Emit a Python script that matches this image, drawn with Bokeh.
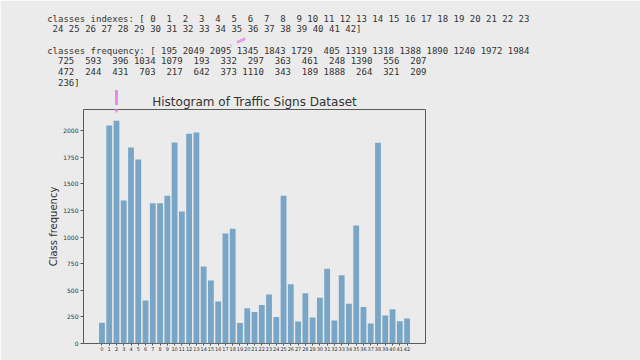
import math
from bokeh.plotting import figure
from bokeh.models import Range1d, FixedTicker, Title, Arrow, NormalHead
from bokeh.embed import file_html
from bokeh.resources import INLINE

# ---- data ----
classes = list(range(43))
frequency = [195, 2049, 2095, 1345, 1843, 1729, 405, 1319, 1318, 1388, 1890, 1240, 1972, 1984,
             725, 593, 396, 1034, 1079, 193, 332, 297, 363, 461, 248, 1390, 556, 207,
             472, 244, 431, 703, 217, 642, 373, 1110, 343, 189, 1888, 264, 321, 209,
             236]
y_ticks = [0, 250, 500, 750, 1000, 1250, 1500, 1750, 2000]

BG = "#ebebeb"
TXT = "#333333"
PINK = "#e88be6"

X0, X1 = -2.54, 44.54
Y0, Y1 = 0, 2200
FL, FW, FT, FH = 83, 342, 109, 234   # frame placement on the page (px)
FB = FT + FH

p = figure(width=640, height=360, output_backend="svg", toolbar_location=None,
           title_location=None,
           x_range=Range1d(X0, X1), y_range=Range1d(Y0, Y1),
           min_border_left=FL, min_border_right=640 - FL - FW,
           min_border_top=FT, min_border_bottom=360 - FT - FH,
           frame_width=FW, frame_height=FH)
p.background_fill_color = BG
p.border_fill_color = BG
p.outline_line_color = "#5a5a5a"
p.outline_line_width = 1
p.grid.visible = False

p.vbar(x=classes, top=frequency, width=0.8, fill_color="#79a6c6", line_color=None)

p.xaxis.ticker = FixedTicker(ticks=classes)
p.xaxis.minor_tick_line_color = None
p.xaxis.axis_line_color = None
p.xaxis.major_tick_out = 2
p.xaxis.major_tick_in = 0
p.xaxis.major_tick_line_color = "#555555"
p.xaxis.major_label_standoff = 1
p.xaxis.major_label_text_font = "DejaVu Sans"
p.xaxis.major_label_text_font_size = "5px"
p.xaxis.major_label_text_color = TXT

p.yaxis.ticker = FixedTicker(ticks=y_ticks)
p.yaxis.minor_tick_line_color = None
p.yaxis.axis_line_color = None
p.yaxis.major_tick_out = 3
p.yaxis.major_tick_in = 0
p.yaxis.major_tick_line_color = "#555555"
p.yaxis.major_label_standoff = 2
p.yaxis.major_label_text_font = "DejaVu Sans"
p.yaxis.major_label_text_font_size = "6px"
p.yaxis.major_label_text_color = TXT
p.yaxis.axis_label = "Class frequency"
p.yaxis.axis_label_text_font = "DejaVu Sans"
p.yaxis.axis_label_text_font_size = "10px"
p.yaxis.axis_label_text_font_style = "normal"
p.yaxis.axis_label_text_color = TXT
p.yaxis.axis_label_standoff = 1

# ---- chart title (nearest the frame) ----
p.add_layout(Title(text="Histogram of Traffic Signs Dataset", align="center",
                   text_font="DejaVu Sans", text_font_size="12px", text_font_style="normal",
                   text_color=TXT, standoff=1), "above")

# ---- notebook output text above the chart ----
def fmt(vals, w):
    return " ".join(f"{v:{w}d}" for v in vals)

lines = [
    "classes indexes: [" + fmt(classes[:24], 2),
    " " + fmt(classes[24:], 2) + "]",
    " ",
    "classes frequency: [" + fmt(frequency[:14], 4),
    " " + fmt(frequency[14:28], 4),
    " " + fmt(frequency[28:42], 4),
    " " + fmt(frequency[42:], 4) + "]",
]
block = "\n".join(s.replace(" ", "\u00a0") for s in lines)
p.add_layout(Title(text=block, align="left", offset=46.7 - FL,
                   text_font="DejaVu Sans Mono", text_font_size="9px", text_font_style="normal",
                   text_color=TXT, text_line_height=1.07, standoff=9.6), "above")

# helpers: page pixel position -> screen units (relative to the frame's bottom-left)
def xs(px):
    return px - FL

def ys(py):
    return FB - py

def head_at(tx, ty, dx, dy, size, color):
    p.add_layout(Arrow(end=NormalHead(size=size, fill_color=color, line_color=color, line_width=1),
                       x_start=xs(tx - dx), y_start=ys(ty - dy), x_end=xs(tx), y_end=ys(ty),
                       start_units="screen", end_units="screen",
                       line_color=color, line_width=3))

def pink_arrow(sx, sy, ex, ey, head_size=9, shaft_size=3.6, step=1.0):
    L = math.hypot(ex - sx, ey - sy)
    dx, dy = (ex - sx) / L, (ey - sy) / L
    # shaft: a chain of small filled heads from the start up to the big head
    dist = shaft_size
    while dist <= L - head_size + 2.0:
        head_at(sx + dx * dist, sy + dy * dist, dx, dy, shaft_size, PINK)
        dist += step
    head_at(ex, ey, dx, dy, head_size, PINK)

# pink arrow pointing down at class 2 (the tallest bar)
bar2_px = FL + (2 - X0) * FW / (X1 - X0)
pink_arrow(bar2_px, 87, bar2_px, 112)

# pink arrow pointing at 2095 in the printed frequencies
pink_arrow(247.0, 37.0, 230.0, 45.0)

html = file_html(p, INLINE)
html = html.replace("<body>", '<body style="background-color:#ebebeb">', 1)
open("out.html", "w").write(html)
